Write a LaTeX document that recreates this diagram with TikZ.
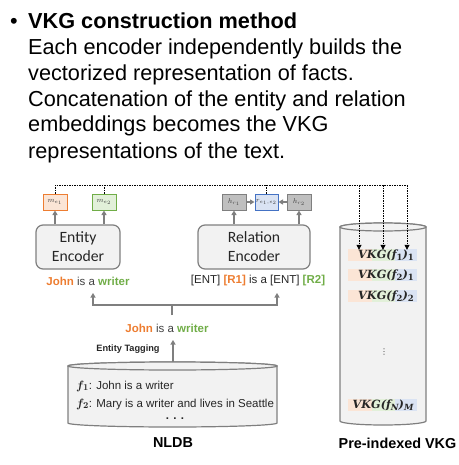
\documentclass[tikz,border=0pt]{standalone}
\usepackage{amsmath}
\usepackage{fontspec}
\setmainfont{Liberation Sans}
\newfontfamily\calfont{Carlito}
\newfontfamily\serifbi{DejaVu Serif}
\newfontfamily\djv{DejaVu Sans}
\usetikzlibrary{arrows.meta}
\definecolor{orangeC}{HTML}{ED7D31}
\definecolor{greenC}{HTML}{70AD47}
\definecolor{blueC}{HTML}{4472C4}
\definecolor{ofill}{HTML}{FBE5D6}
\definecolor{gfill}{HTML}{E2F0D9}
\definecolor{bfill}{HTML}{DAE3F3}
\definecolor{hfill}{HTML}{BFBFBF}
\definecolor{gborder}{HTML}{7F7F7F}
\definecolor{encfill}{HTML}{F2F2F2}
\definecolor{txtgray}{HTML}{404040}
\definecolor{txtdark}{HTML}{262626}
\newcommand\vkgsub[1]{\raisebox{-2.2pt}{\fontsize{8.5}{9}\selectfont #1}}
\tikzset{
  garr/.style={draw=gborder, line width=1.3pt, -{Triangle[length=4.5pt,width=5pt]}},
  dline/.style={draw=black, line width=0.8pt, dash pattern=on 1.5pt off 1pt},
  darr/.style={dline, -{Triangle[length=5pt,width=5pt]}},
  encbox/.style={draw=gborder, fill=encfill, line width=1.2pt, rounded corners=7pt,
    minimum height=44pt, inner sep=0pt, align=center, text=txtdark,
    font=\calfont\fontsize{15.7}{19}\selectfont},
  vbox/.style={line width=1pt, minimum width=24pt, minimum height=16pt, inner sep=0pt,
    text=txtgray, font=\fontsize{7.5}{8}\selectfont},
  cyl/.style={draw=gborder, fill=encfill, line width=1.2pt},
  titletxt/.style={anchor=base west, inner sep=0pt, font=\fontsize{21.7}{26}\selectfont},
  smalltxt/.style={inner sep=1pt, text=txtdark, font=\fontsize{11.5}{13}\selectfont},
  vkgtxt/.style={minimum width=69pt, minimum height=12pt, inner sep=0pt, text=txtdark,
    font=\serifbi\bfseries\itshape\fontsize{11.3}{13}\selectfont},
  labtxt/.style={inner sep=0pt, font=\bfseries\fontsize{14.4}{16}\selectfont},
}
\begin{document}
\begin{tikzpicture}[x=1pt,y=-1pt]
\useasboundingbox (0,0) rectangle (458,465);

% title text
\node[titletxt] (bul) at (10,29) {\textbullet};
\node[titletxt] (l1) at (28,29) {\bfseries VKG construction method};
\node[titletxt] (l2) at (28,55) {Each encoder independently builds the};
\node[titletxt] (l3) at (28,81) {vectorized representation of facts.};
\node[titletxt] (l4) at (28,107) {Concatenation of the entity and relation};
\node[titletxt] (l5) at (28,132) {embeddings becomes the VKG};
\node[titletxt] (l6) at (28,158) {representations of the text.};

% encoders
\node[encbox, minimum width=84pt] (ee) at (78,247) {Entity\\Encoder};
\node[encbox, minimum width=112pt] (re) at (254,247) {Relation\\Encoder};

% embedding boxes
\node[vbox, draw=orangeC, fill=ofill] (me1) at (55,202) {$m_{e_1}$};
\node[vbox, draw=greenC, fill=gfill] (me2) at (104,202) {$m_{e_2}$};
\node[vbox, draw=gborder, fill=hfill] (hr1) at (234,202) {$h_{r_1}$};
\node[vbox, draw=blueC, fill=bfill, minimum width=23pt] (rr) at (266.5,202) {$r_{e_1,e_2}$};
\node[vbox, draw=gborder, fill=hfill] (hr2) at (299,202) {$h_{r_2}$};

\draw[garr] (ee.north -| me1) -- (me1.south);
\draw[garr] (ee.north -| me2) -- (me2.south);
\draw[garr] (re.north -| hr1) -- (hr1.south);
\draw[garr] (re.north -| hr2) -- (hr2.south);
\draw[garr] (hr1.east) -- (rr.west);
\draw[garr] (hr2.west) -- (rr.east);

% VKG cylinder
\path[cyl] (340,227) -- (340,421) arc[start angle=180,end angle=0,x radius=43,y radius=4]
  -- (426,227) arc[start angle=0,end angle=-180,x radius=43,y radius=4] -- cycle;
\draw[cyl] (383,227) ellipse [x radius=43, y radius=4];

% VKG rows
\foreach \yy in {255,275,296,405}{
  \fill[ofill] (348,\yy-6) rectangle (372,\yy+6);
  \fill[gfill] (372,\yy-6) rectangle (395,\yy+6);
  \fill[bfill] (395,\yy-6) rectangle (417,\yy+6);
}
\node[vkgtxt] (row1) at (386,255) {VKG(f\vkgsub{\upshape 1})\vkgsub{\upshape 1}};
\node[vkgtxt] (row2) at (386,275) {VKG(f\vkgsub{\upshape 2})\vkgsub{\upshape 1}};
\node[vkgtxt] (row3) at (386,296) {VKG(f\vkgsub{\upshape 2})\vkgsub{\upshape 2}};
\node[inner sep=0pt, text=txtgray, font=\djv\fontsize{8}{9}\selectfont] (vd) at (384,352) {⋮};
\node[vkgtxt] (rowM) at (383,405) {VKG(f\vkgsub{N})\vkgsub{M}};

% dashed connections
\coordinate (t1) at (359,185);
\coordinate (t2) at (383,185);
\coordinate (t3) at (407,185);
\draw[dline] (me1.north) |- (t3);
\draw[dline] (me2.north) -- (me2.north |- t3);
\draw[dline] (rr.north) -- (rr.north |- t3);
\draw[darr] (t1) -- ([yshift=-1pt]t1 |- row1.north);
\draw[darr] (t2) -- ([yshift=-1pt]t2 |- row1.north);
\draw[darr] (t3) -- ([yshift=-1pt]t3 |- row1.north);

% encoder inputs
\node[smalltxt] (jw1) at (88,281) {\textbf{\color{orangeC}John} {\color{txtgray}is a} \textbf{\color{greenC}writer}};
\node[smalltxt] (ent) at (258,281) {[ENT] \textbf{\color{orangeC}[R1]} is a [ENT] \textbf{\color{greenC}[R2]}};
\node[smalltxt] (jw2) at (167,328) {\textbf{\color{orangeC}John} {\color{txtgray}is a} \textbf{\color{greenC}writer}};
\node[inner sep=0pt, text=txtdark, font=\bfseries\fontsize{9.2}{11}\selectfont] (tag) at (128,349) {Entity Tagging};

\coordinate (bm) at (172,315);
\coordinate (bl) at (93,305);
\coordinate (brr) at (277,305);
\coordinate (tl) at (93,293);
\coordinate (tr) at (277,293);
\draw[garr] (bm) |- (bl) -- (tl);
\draw[garr] (bm) |- (brr) -- (tr);

% NLDB cylinder
\path[cyl] (68,366) -- (68,423) arc[start angle=180,end angle=0,x radius=104.5,y radius=4]
  -- (277,366) arc[start angle=0,end angle=-180,x radius=104.5,y radius=4] -- cycle;
\draw[cyl] (172.5,366) ellipse [x radius=104.5, y radius=4];
\coordinate (ntop) at (173,362);
\coordinate (ttip) at (173,340);
\draw[garr] (ntop) -- (ttip);

\node[anchor=base west, inner sep=0pt, text=txtdark, font=\fontsize{11.5}{13}\selectfont] (f1) at (76,389)
  {{\fontsize{13}{15}\selectfont\boldmath$f_1$}: John is a writer};
\node[anchor=base west, inner sep=0pt, text=txtdark, font=\fontsize{11.5}{13}\selectfont] (f2) at (76,407)
  {{\fontsize{13}{15}\selectfont\boldmath$f_2$}: Mary is a writer and lives in Seattle};
\node[anchor=base, inner sep=0pt, text=txtdark, font=\bfseries\fontsize{11.5}{13}\selectfont] (dots) at (175,419) {. . .};

% labels
\node[labtxt] (nldb) at (173,443) {NLDB};
\node[labtxt] (vkgl) at (397.5,443) {Pre-indexed VKG};
\end{tikzpicture}
\end{document}
